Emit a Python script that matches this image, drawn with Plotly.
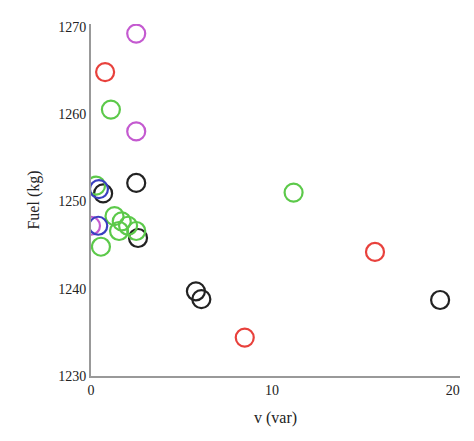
import plotly.graph_objects as go

black_x = [2.5, 0.67, 2.6, 5.8, 6.1, 19.3]
black_y = [1252.1, 1250.9, 1245.8, 1239.7, 1238.8, 1238.7]
red_x = [0.78, 15.7, 8.5]
red_y = [1264.8, 1244.2, 1234.4]
green_x = [1.1, 11.2, 0.28, 0.55, 1.3, 1.7, 2.05, 2.5, 1.55]
green_y = [1260.5, 1251.0, 1251.8, 1244.8, 1248.3, 1247.7, 1247.2, 1246.6, 1246.6]
purple_x = [2.5, 2.5, 0.0]
purple_y = [1269.2, 1258.0, 1247.2]
blue_x = [0.44, 0.4]
blue_y = [1251.4, 1247.2]

fig = go.Figure()
for xs, ys, c in [(black_x, black_y, "#222222"), (red_x, red_y, "#e8413c"),
                  (green_x, green_y, "#5cc94a"), (purple_x, purple_y, "#c45ad0"),
                  (blue_x, blue_y, "#3a3fc0")]:
    fig.add_trace(go.Scatter(x=xs, y=ys, mode="markers",
                             marker=dict(symbol="circle-open", size=18, color=c, line=dict(width=2.2))))
ax = dict(showgrid=False, zeroline=False, showline=True, linecolor="#999", linewidth=2,
          ticks="", tickfont=dict(family="Liberation Serif", size=14, color="#222"))
fig.update_layout(width=474, height=441, showlegend=False, plot_bgcolor="white", paper_bgcolor="white",
                  margin=dict(l=83, r=22, t=13, b=73),
                  xaxis=dict(range=[0, 20.4], tickvals=[0, 10, 20],
                             title=dict(text="v (var)", font=dict(family="Liberation Serif", size=16, color="#222")), **ax),
                  yaxis=dict(range=[1230, 1270.3], tickvals=[1230, 1240, 1250, 1260, 1270],
                             title=dict(text="Fuel (kg)", font=dict(family="Liberation Serif", size=16, color="#222")), **ax))
fig.write_html("out.html")
